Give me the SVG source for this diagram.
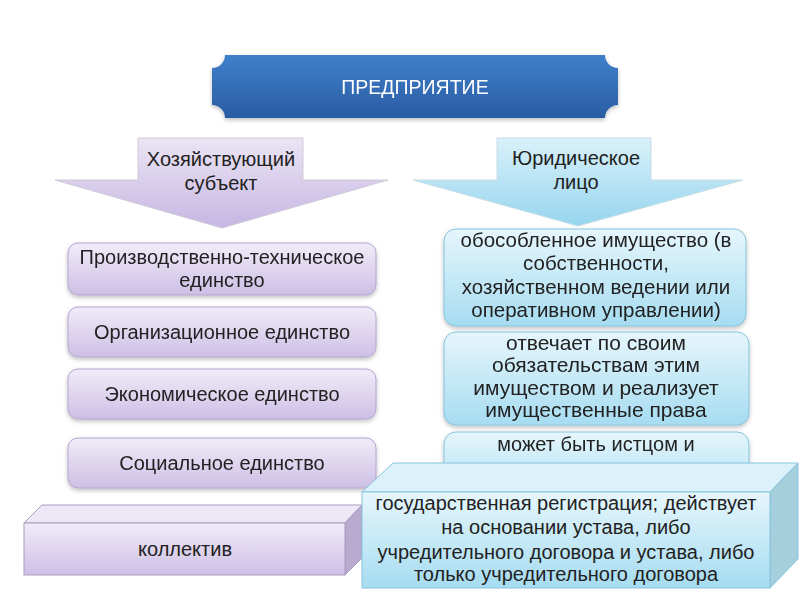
<svg xmlns="http://www.w3.org/2000/svg" width="800" height="600" viewBox="0 0 800 600">
<defs>
<linearGradient id="gTitle" x1="0" y1="0" x2="0" y2="1"><stop offset="0" stop-color="#3f80ca"/><stop offset="1" stop-color="#2a5ca3"/></linearGradient>
<linearGradient id="gLav" x1="0" y1="0" x2="0" y2="1"><stop offset="0" stop-color="#f1ecf8"/><stop offset="1" stop-color="#cdbfe5"/></linearGradient>
<linearGradient id="gBlue" x1="0" y1="0" x2="0" y2="1"><stop offset="0" stop-color="#e6f6fc"/><stop offset="1" stop-color="#a6dcf1"/></linearGradient>
<linearGradient id="gArrL" x1="0" y1="0" x2="0" y2="1"><stop offset="0" stop-color="#ebe5f5"/><stop offset="1" stop-color="#c6b6e2"/></linearGradient>
<linearGradient id="gArrR" x1="0" y1="0" x2="0" y2="1"><stop offset="0" stop-color="#d9f1fa"/><stop offset="1" stop-color="#96d5ee"/></linearGradient>
<filter id="sh" x="-10%" y="-10%" width="120%" height="130%"><feDropShadow dx="0" dy="2" stdDeviation="2" flood-color="#000" flood-opacity="0.25"/></filter>
</defs>
<style>
text{font-family:"Liberation Sans",Arial,sans-serif;font-size:20px;fill:#222;text-anchor:middle}
.title{fill:#fff;font-size:19.5px}
.r{font-size:20.5px}
.r2{font-size:21px}
.lav{fill:url(#gLav);stroke:#b5a6cf;stroke-width:1}
.blu{fill:url(#gBlue);stroke:#86c3dc;stroke-width:1}
</style>
<rect width="800" height="600" fill="#fff"/>

<g id="title" filter="url(#sh)">
<path d="M225,55 H605 A13,13 0 0 0 618,68 V105 A13,13 0 0 0 605,118 H225 A13,13 0 0 0 212,105 V68 A13,13 0 0 0 225,55 Z" fill="url(#gTitle)"/>
<text class="title" x="415" y="94">ПРЕДПРИЯТИЕ</text>
</g>

<g id="arrow-left">
<path d="M138,138 H303 V180 H388 L222,228 L55,180 H138 Z" fill="url(#gArrL)" stroke="#cfcad9" stroke-width="1"/>
<text x="221" y="166">Хозяйствующий</text>
<text x="221" y="190">субъект</text>
</g>

<g id="arrow-right">
<path d="M497,138 H651 V180 H743 L578,226 L413,180 H497 Z" fill="url(#gArrR)" stroke="#c6dde6" stroke-width="1"/>
<text x="576" y="165">Юридическое</text>
<text x="576" y="189">лицо</text>
</g>

<g id="box-pt" filter="url(#sh)">
<rect class="lav" x="68" y="243" width="308" height="52" rx="10"/>
<text x="222" y="264">Производственно-техническое</text>
<text x="222" y="287">единство</text>
</g>
<g id="box-org" filter="url(#sh)">
<rect class="lav" x="68" y="307" width="308" height="50" rx="10"/>
<text x="222" y="339">Организационное единство</text>
</g>
<g id="box-eco" filter="url(#sh)">
<rect class="lav" x="68" y="369" width="308" height="50" rx="10"/>
<text x="222" y="401">Экономическое единство</text>
</g>
<g id="box-soc" filter="url(#sh)">
<rect class="lav" x="68" y="438" width="308" height="50" rx="10"/>
<text x="222" y="470">Социальное единство</text>
</g>

<g id="box-kollektiv">
<polygon points="24,523 42,505 362,505 345,523" fill="#ede7f6" stroke="#a99cc0" stroke-width="1"/>
<polygon points="345,523 362,505 362,558 345,575" fill="#b9abcf" stroke="#a99cc0" stroke-width="1"/>
<rect x="24" y="523" width="321" height="52" fill="url(#gLav)" stroke="#a99cc0" stroke-width="1"/>
<text x="185" y="556">коллектив</text>
</g>

<g id="box-imush" filter="url(#sh)">
<rect class="blu" x="444" y="229" width="302" height="97" rx="12"/>
<text class="r" x="596" y="247">обособленное имущество (в</text>
<text class="r" x="596" y="270">собственности,</text>
<text class="r" x="596" y="294">хозяйственном ведении или</text>
<text class="r" x="596" y="317">оперативном управлении)</text>
</g>
<g id="box-otvech" filter="url(#sh)">
<rect class="blu" x="444" y="332" width="305" height="93" rx="12"/>
<text class="r2" x="596" y="350">отвечает по своим</text>
<text class="r2" x="596" y="372">обязательствам этим</text>
<text class="r2" x="596" y="395">имуществом и реализует</text>
<text class="r2" x="596" y="417">имущественные права</text>
</g>
<g id="box-istec" filter="url(#sh)">
<rect class="blu" x="444" y="432" width="305" height="70" rx="12"/>
<text x="596" y="451">может быть истцом и</text>
</g>

<g id="box-reg">
<polygon points="362,492 393,463 798,463 770,492" fill="#dcf2fb" stroke="#86c3dc" stroke-width="1"/>
<polygon points="770,492 798,463 798,559 770,588" fill="#a5cfdd" stroke="#86c3dc" stroke-width="1"/>
<rect x="362" y="492" width="408" height="96" fill="url(#gBlue)" stroke="#86c3dc" stroke-width="1"/>
<text x="566" y="510">государственная регистрация; действует</text>
<text x="566" y="534">на основании устава, либо</text>
<text x="566" y="559">учредительного договора и устава, либо</text>
<text x="566" y="581">только учредительного договора</text>
</g>

<g id="connectors"/>
</svg>
